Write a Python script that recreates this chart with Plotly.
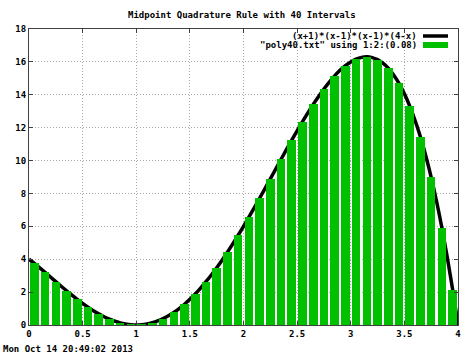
import plotly.graph_objects as go

# Curve sample points (x, value)
curve_x = [0.0, 0.05, 0.1, 0.15, 0.2, 0.25, 0.3, 0.35, 0.4, 0.45, 0.5, 0.55, 0.6, 0.65, 0.7, 0.75,
           0.8, 0.85, 0.9, 0.95, 1.0, 1.05, 1.1, 1.15, 1.2, 1.25, 1.3, 1.35, 1.4, 1.45, 1.5, 1.55,
           1.6, 1.65, 1.7, 1.75, 1.8, 1.85, 1.9, 1.95, 2.0, 2.05, 2.1, 2.15, 2.2, 2.25, 2.3, 2.35,
           2.4, 2.45, 2.5, 2.55, 2.6, 2.65, 2.7, 2.75, 2.8, 2.85, 2.9, 2.95, 3.0, 3.05, 3.1, 3.15,
           3.2, 3.25, 3.3, 3.35, 3.4, 3.45, 3.5, 3.55, 3.6, 3.65, 3.7, 3.75, 3.8, 3.85, 3.9, 3.95, 4.0]
curve_y = [4.0, 3.743, 3.475, 3.199, 2.918, 2.637, 2.357, 2.082, 1.814, 1.557, 1.3125, 1.083,
           0.870, 0.677, 0.505, 0.355, 0.230, 0.131, 0.059, 0.015, 0.0, 0.015, 0.061, 0.138,
           0.246, 0.387, 0.559, 0.763, 0.998, 1.265, 1.5625, 1.890, 2.246, 2.631, 3.043, 3.480,
           3.942, 4.427, 4.933, 5.458, 6.0, 6.557, 7.127, 7.707, 8.294, 8.887, 9.481, 10.074,
           10.662, 11.243, 11.8125, 12.367, 12.902, 13.415, 13.901, 14.355, 14.774, 15.153,
           15.487, 15.771, 16.0, 16.169, 16.273, 16.306, 16.262, 16.137, 15.923, 15.615,
           15.206, 14.691, 14.0625, 13.314, 12.438, 11.429, 10.279, 8.980, 7.526, 5.909,
           4.121, 2.154, 0.0]

# Midpoint bars (40 intervals)
bar_x = [0.05, 0.15, 0.25, 0.35, 0.45, 0.55, 0.65, 0.75, 0.85, 0.95,
         1.05, 1.15, 1.25, 1.35, 1.45, 1.55, 1.65, 1.75, 1.85, 1.95,
         2.05, 2.15, 2.25, 2.35, 2.45, 2.55, 2.65, 2.75, 2.85, 2.95,
         3.05, 3.15, 3.25, 3.35, 3.45, 3.55, 3.65, 3.75, 3.85, 3.95]
bar_y = [3.743, 3.199, 2.637, 2.082, 1.557, 1.083, 0.677, 0.355, 0.131, 0.015,
         0.015, 0.138, 0.387, 0.763, 1.265, 1.890, 2.631, 3.480, 4.427, 5.458,
         6.557, 7.707, 8.887, 10.074, 11.243, 12.367, 13.415, 14.355, 15.153, 15.771,
         16.169, 16.306, 16.137, 15.615, 14.691, 13.314, 11.429, 8.980, 5.909, 2.154]

x_ticks = [0, 0.5, 1, 1.5, 2, 2.5, 3, 3.5, 4]
x_tick_labels = ["0", "0.5", "1", "1.5", "2", "2.5", "3", "3.5", "4"]
y_ticks = [0, 2, 4, 6, 8, 10, 12, 14, 16, 18]
y_tick_labels = ["0", "2", "4", "6", "8", "10", "12", "14", "16", "18"]

title_text = "Midpoint Quadrature Rule with 40 Intervals"
legend_labels = ['(x+1)*(x-1)*(x-1)*(4-x)', '"poly40.txt" using 1:2:(0.08)']
timestamp = "Mon Oct 14 20:49:02 2013"

GREEN = "#00c000"
FONT = dict(family="DejaVu Sans Mono", size=9, color="black", weight="bold")

fig = go.Figure()
fig.add_trace(go.Scatter(x=curve_x, y=curve_y, mode="lines", line=dict(color="black", width=3.5, shape="spline"),
                         xaxis="x", yaxis="y", showlegend=False))
fig.add_trace(go.Bar(x=bar_x, y=bar_y, width=0.08, marker=dict(color=GREEN, line=dict(width=0)),
                     xaxis="x2", yaxis="y2", showlegend=False))

axis_common = dict(showline=True, linecolor="#404040", linewidth=1, mirror="allticks",
                   ticks="inside", ticklen=4, tickcolor="#404040", zeroline=False,
                   tickfont=FONT)
grid_common = dict(showgrid=True, gridcolor="#a8a8a8", griddash="1px,2px", gridwidth=1)
fig.update_layout(
    width=474, height=355,
    margin=dict(l=29, r=16, t=29, b=30),
    plot_bgcolor="white", paper_bgcolor="white",
    xaxis=dict(range=[0, 4], tickvals=x_ticks, ticktext=x_tick_labels, **grid_common, **axis_common),
    yaxis=dict(range=[0, 18], tickvals=y_ticks, ticktext=y_tick_labels, **grid_common, **axis_common),
    xaxis2=dict(range=[0, 4], overlaying="x", visible=False),
    yaxis2=dict(range=[0, 18], overlaying="y", visible=False),
    bargap=0,
)


def px(xp):
    return (xp - 29) / 429


def py(yp):
    return (325 - yp) / 296


fig.add_annotation(text=title_text, xref="paper", yref="paper", x=px(242), y=py(15),
                   showarrow=False, font=FONT, xanchor="center", yanchor="middle")
fig.add_annotation(text=timestamp, xref="paper", yref="paper", x=px(1), y=py(349),
                   showarrow=False, font=FONT, xanchor="left", yanchor="middle")

# Legend (gnuplot style: text right-aligned, sample on the right)
fig.add_annotation(text=legend_labels[0], xref="paper", yref="paper", x=px(419), y=py(36),
                   showarrow=False, font=FONT, xanchor="right", yanchor="middle")
fig.add_annotation(text=legend_labels[1], xref="paper", yref="paper", x=px(419), y=py(45),
                   showarrow=False, font=FONT, xanchor="right", yanchor="middle")
fig.add_shape(type="line", xref="paper", yref="paper", x0=px(423), x1=px(448), y0=py(36), y1=py(36),
              line=dict(color="black", width=3.5))
fig.add_shape(type="rect", xref="paper", yref="paper", x0=px(423), x1=px(448), y0=py(48), y1=py(42),
              fillcolor=GREEN, line=dict(width=0))

fig.write_html("out.html")
